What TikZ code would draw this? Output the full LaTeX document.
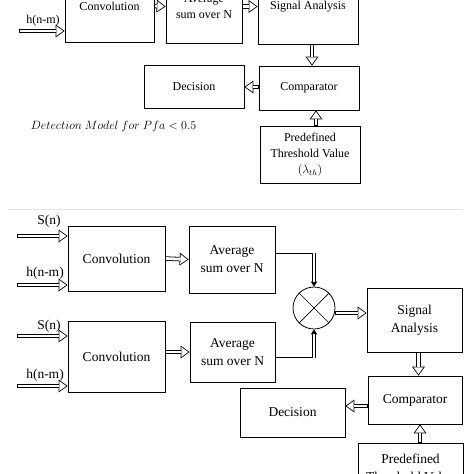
\documentclass[tikz,border=0pt]{standalone}
\usepackage{fontspec}
\setmainfont{Liberation Serif}
\usetikzlibrary{arrows.meta}
\tikzset{
  blk/.style={draw, line width=0.8pt, inner sep=0pt, align=center},
  smalltxt/.style={font=\fontsize{12}{16}\selectfont},
  bigtxt/.style={font=\fontsize{13.5}{18}\selectfont},
  harrow/.style={line width=4.4pt, -{Triangle[length=9pt, width=13pt, line width=0pt]},
    postaction={draw=white, line width=2.8pt, shorten <=0.8pt, shorten >=1.4pt,
      -{Triangle[length=6.8pt, width=9.8pt, line width=0pt]}}},
  wire/.style={line width=0.7pt},
  dwire/.style={line width=3.4pt, -{Triangle[length=5pt, width=6.5pt, line width=0pt]},
    postaction={draw=white, line width=1.6pt, shorten <=-0.5pt, shorten >=5pt, -{}}},
}
\begin{document}
\begin{tikzpicture}[x=1pt, y=-1pt]
\clip[use as bounding box] (0,0) rectangle (474,474);
\fill[white] (0,0) rectangle (474,474);
\node[blk, smalltxt, minimum width=89, minimum height=72] (conv1) at (109.5,6){Convolution};
\node[blk, smalltxt, minimum width=76, minimum height=73] (avg1) at (204,6.5){Average\\sum over N};
\node[blk, smalltxt, minimum width=100, minimum height=74] (sa1) at (308,7){Signal Analysis};
\node[blk, smalltxt, minimum width=100, minimum height=44] (comp1) at (309,88){Comparator};
\node[blk, smalltxt, minimum width=100, minimum height=43] (dec1) at (194,86.5){Decision};
\node[blk, smalltxt, minimum width=100, minimum height=57] (thr1) at (310,154.5){Predefined\\Threshold Value\\$(\lambda_{th})$};
\node[smalltxt] (hlab1) at (43,21){h(n-m)};
\coordinate (hin1) at (19,31);
\node[font=\fontsize{12}{14}\selectfont] (cap) at (113.5,126){$Detection\ Model\ for\ Pfa < 0.5$};
\draw[harrow] (hin1) -- (hin1 -| conv1.west);
\draw[harrow] (conv1.east) -- (avg1.west);
\draw[harrow] (avg1.east) -- (avg1.east -| sa1.west);
\draw[harrow] ([xshift=4pt]sa1.south) -- ([xshift=4pt]sa1.south |- comp1.north);
\draw[harrow] ([yshift=1pt]comp1.west) -- ([yshift=1pt]comp1.west -| dec1.east);
\draw[harrow] ([xshift=6pt]thr1.north) -- ([xshift=6pt]thr1.north |- comp1.south);
\draw[gray!20, line width=0.6pt] (8,209) -- (463,209);
\node[blk, bigtxt, minimum width=97, minimum height=65] (conv2) at (116.5,258.5){Convolution};
\node[blk, bigtxt, minimum width=86, minimum height=67] (avg2) at (232,259.5){Average\\sum over N};
\node[blk, bigtxt, minimum width=97, minimum height=71] (conv3) at (116.5,356.5){Convolution};
\node[blk, bigtxt, minimum width=85, minimum height=60] (avg3) at (232.5,352){Average\\sum over N};
\node[draw, circle, line width=0.8pt, minimum size=42, inner sep=0pt] (mul) at (314,308){};
\node[blk, bigtxt, minimum width=95, minimum height=64] (sa2) at (414.5,320){Signal\\Analysis};
\node[blk, bigtxt, minimum width=94, minimum height=48] (comp2) at (415,400){Comparator};
\node[blk, bigtxt, minimum width=105, minimum height=49] (dec2) at (292.5,412.5){Decision};
\node[blk, bigtxt, minimum width=105, minimum height=72] (thr2) at (410.5,479){Predefined\\Threshold Value\\$(\lambda_{th})$};
\node[bigtxt] (slab2) at (49,221){S(n)};
\node[bigtxt] (hlab2) at (45,273){h(n-m)};
\node[bigtxt] (slab3) at (49,326){S(n)};
\node[bigtxt] (hlab3) at (45,375){h(n-m)};
\coordinate (sin2) at (17,236);
\coordinate (hin2) at (17,285);
\coordinate (sin3) at (17,336);
\coordinate (hin3) at (17,386);
\coordinate (c2) at (mul.north |- 0,253);
\coordinate (c3) at (mul.south |- 0,357);
\draw[harrow] (sin2) -- (sin2 -| conv2.west);
\draw[harrow] (hin2) -- (hin2 -| conv2.west);
\draw[harrow] (sin3) -- (sin3 -| conv3.west);
\draw[harrow] (hin3) -- (hin3 -| conv3.west);
\draw[harrow] (conv2.east) -- (avg2.west);
\draw[harrow] (conv3.east |- avg3.west) -- (avg3.west);
\draw[wire] (avg2.east |- c2) -- ([xshift=1.7pt]c2);
\draw[wire] (avg3.east |- c3) -- ([xshift=1.7pt]c3);
\draw[dwire] (c2) -- (mul.north);
\draw[dwire] (c3) -- (mul.south);
\draw[line width=0.7pt] (mul.north west) -- (mul.south east);
\draw[line width=0.7pt] (mul.north east) -- (mul.south west);
\draw[harrow] ([yshift=-5pt]mul.east) -- ([yshift=-5pt]mul.east -| sa2.west);
\draw[harrow] ([xshift=4pt]sa2.south) -- ([xshift=4pt]sa2.south |- comp2.north);
\draw[harrow] ([yshift=-6pt]comp2.west) -- ([yshift=-6pt]comp2.west -| dec2.east);
\draw[harrow] ([xshift=9.5pt]thr2.north) -- ([xshift=9.5pt]thr2.north |- comp2.south);
\end{tikzpicture}
\end{document}
